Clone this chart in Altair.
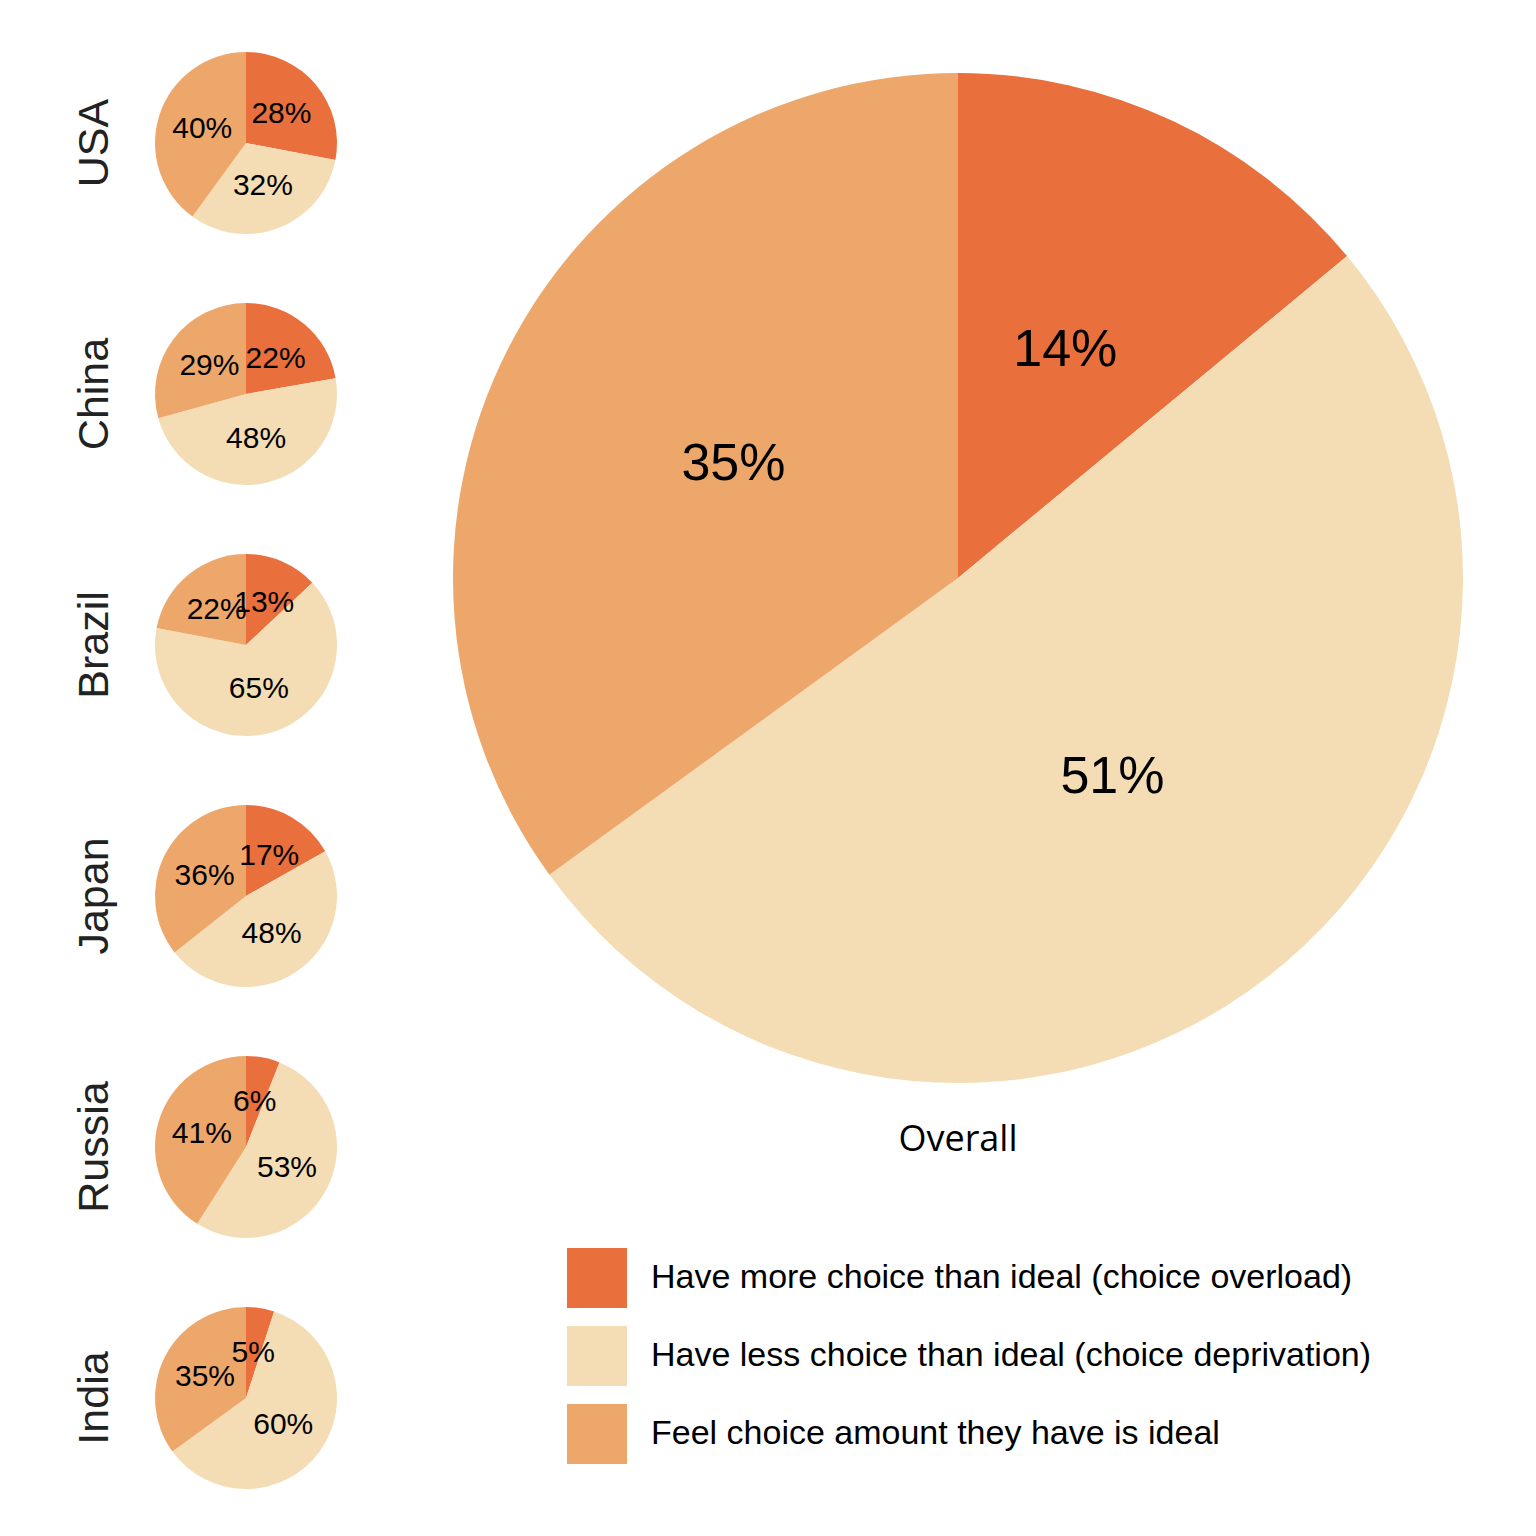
import altair as alt
import pandas as pd

countries = ["USA", "China", "Brazil", "Japan", "Russia", "India"]
categories = [
    "Have more choice than ideal (choice overload)",
    "Have less choice than ideal (choice deprivation)",
    "Feel choice amount they have is ideal",
]
colours = ["#E96F3D", "#F4DDB4", "#EDA76B"]

# share of respondents per country, in percent
overload = [28, 22, 13, 17, 6, 5]
deprivation = [32, 48, 65, 48, 53, 60]
ideal = [40, 29, 22, 36, 41, 35]

# all countries together
overall = [14, 51, 35]

rows = []
for i, c in enumerate(countries):
    for j, v in enumerate([overload[i], deprivation[i], ideal[i]]):
        rows.append({"country": c, "category": categories[j], "idx": j, "value": v})
small_df = pd.DataFrame(rows)
small_df["label"] = small_df["value"].astype(str) + "%"

big_df = pd.DataFrame({"category": categories, "idx": [0, 1, 2], "value": overall})
big_df["label"] = big_df["value"].astype(str) + "%"

color = alt.Color(
    "category:N",
    scale=alt.Scale(domain=categories, range=colours),
    sort=categories,
    legend=alt.Legend(title=None),
)

# small pies, one per country
small_base = alt.Chart(small_df).encode(
    theta=alt.Theta("value:Q", stack=True),
    order=alt.Order("idx:Q"),
)
small_arcs = small_base.mark_arc(outerRadius=91).encode(color=color)
small_text = small_base.mark_text(
    radius=46, fontSize=30, font="Liberation Sans"
).encode(text="label:N", detail="category:N", color=alt.value("black"))

small = alt.layer(small_arcs, small_text).properties(
    width=182, height=182
).facet(
    row=alt.Row(
        "country:N",
        sort=countries,
        header=alt.Header(
            title=None,
            labelAngle=-90,
            labelAlign="center",
            labelFontSize=43,
            labelFont="Liberation Sans",
            labelColor="#222222",
            labelPadding=17,
        ),
    ),
    spacing=69,
)

# big pie for the overall numbers
big_base = alt.Chart(big_df).encode(
    theta=alt.Theta("value:Q", stack=True),
    order=alt.Order("idx:Q"),
)
big_arcs = big_base.mark_arc(outerRadius=505).encode(color=color)
big_text = big_base.mark_text(
    radius=252, fontSize=52, font="Liberation Sans"
).encode(text="label:N", detail="category:N", color=alt.value("black"))

big = alt.layer(big_arcs, big_text).properties(
    width=1010,
    height=1052,
    title=alt.TitleParams(
        "Overall", orient="bottom", font="Open Sans", fontSize=36,
        fontWeight="normal", color="black", offset=19,
    ),
)

chart = alt.hconcat(small, big, spacing=116).properties(
    padding={"left": 65, "top": 44, "right": 5, "bottom": 5}
).configure_view(
    stroke=None
).configure_legend(
    orient="none",
    legendX=412,
    legendY=1196,
    padding=0,
    symbolType="square",
    symbolSize=3600,
    symbolStrokeWidth=0,
    symbolOpacity=1,
    rowPadding=18,
    labelOffset=24,
    labelFontSize=34,
    labelFont="Liberation Sans",
    labelColor="black",
    labelLimit=1000,
)

chart.save("out.html", embed_options={"renderer": "svg", "actions": False})
